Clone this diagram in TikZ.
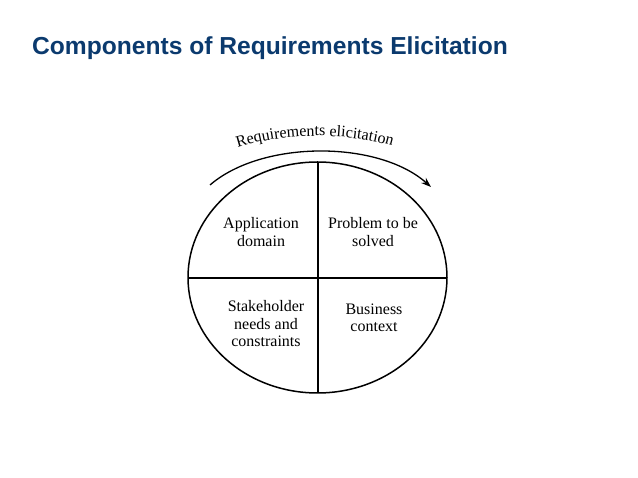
\documentclass[tikz,border=0pt]{standalone}
\usepackage{fontspec}
\setmainfont{Liberation Serif}
\newfontfamily\titlefont{Liberation Sans}
\usetikzlibrary{arrows.meta,decorations.text}
\definecolor{titleblue}{HTML}{0B3A6E}
\tikzset{quad/.style={font=\fontsize{16}{17.5}\selectfont,align=center,inner sep=0pt}}
\begin{document}
\begin{tikzpicture}[x=1pt,y=-1pt]
\useasboundingbox (0,0) rectangle (638,478);
\node[anchor=west,font=\titlefont\bfseries\fontsize{24.6}{28}\selectfont,text=titleblue,inner sep=0pt] (title) at (32,48) {Components of Requirements Elicitation};
\draw[line width=1.5pt] (317.5,277.5) ellipse [x radius=129.5, y radius=115.5];
\coordinate (vt) at (318,162); \coordinate (vb) at (318,393);
\coordinate (hl) at (188,278); \coordinate (hr) at (447,278);
\draw[line width=1.5pt] (vt) -- (vb);
\draw[line width=1.5pt] (hl) -- (hr);
\coordinate (as) at (210,185); \coordinate (ae) at (431,187);
\draw[line width=1.3pt,-{Stealth[length=10pt,width=7pt]}] (as) .. controls (262,140) and (378,140) .. (ae);
\path[decorate,decoration={text along path,text align=center,text={|\fontsize{16}{17}\selectfont|Requirements elicitation}}] (225,152) .. controls (280,131) and (350,131) .. (405,150);
\node[quad] (app) at (261,232) {Application\\domain};
\node[quad] (prob) at (373,232) {Problem to be\\solved};
\node[quad] (stake) at (266,324) {Stakeholder\\needs and\\constraints};
\node[quad] (bus) at (374,318) {Business\\context};
\end{tikzpicture}
\end{document}
